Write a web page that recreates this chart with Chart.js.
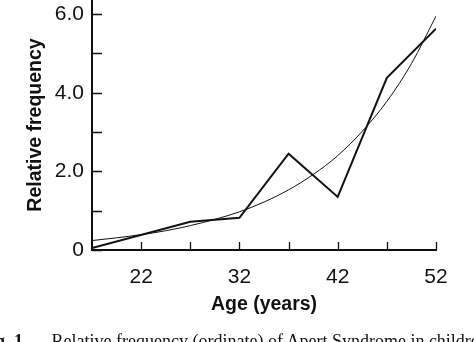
<!DOCTYPE html>
<html>
<head>
<meta charset="utf-8">
<script src="https://cdn.jsdelivr.net/npm/chart.js@4/dist/chart.umd.min.js"></script>
<style>
    html, body { margin: 0; padding: 0; background: #fff; overflow: hidden; }
    #wrap { position: relative; width: 474px; height: 342px; }
    #cap {
        position: absolute; left: -20px; top: 332px;
        font-family: "Liberation Serif", "Times New Roman", serif;
        font-size: 18px; line-height: 18px; color: #111; white-space: nowrap;
    }
    #cap span { margin-left: 24px; }
</style>
</head>
<body>
<div id="wrap">
    <canvas id="ageChart" width="474" height="342"></canvas>
    <div id="cap"><b>Fig. 1.</b><span>Relative frequency (ordinate) of Apert Syndrome in children of fathers of different ages</span></div>
</div>
<script>
// Observed relative frequency (jagged line)
const obsAges = [17, 27, 32, 37, 42, 47, 52];
const obsFreq = [0.05, 0.72, 0.82, 2.45, 1.35, 4.38, 5.63];

// Fitted curve (thin line)
const fitAges = [17, 19.5, 22, 24.5, 27, 29.5, 32, 34.5, 37, 39.5, 42, 44.5, 47, 49.5, 52];
const fitFreq = [0.24, 0.31, 0.39, 0.49, 0.62, 0.78, 0.97, 1.22, 1.53, 1.92, 2.40, 3.02, 3.78, 4.74, 5.95];

// Axis ticks
const xTicks = [22, 27, 32, 37, 42, 47, 52];
const xLabels = ['22', '', '32', '', '42', '', '52'];
const yTicks = [0, 1, 2, 3, 4, 5, 6];
const yLabels = ['0', '', '2.0', '', '4.0', '', '6.0'];

const ink = '#111';

// inward tick marks
const inwardTicks = {
    id: 'inwardTicks',
    afterDraw(chart) {
        const ctx = chart.ctx;
        const x = chart.scales.x, y = chart.scales.y;
        ctx.save();
        ctx.strokeStyle = ink;
        ctx.lineWidth = 1.3;
        ctx.beginPath();
        x.ticks.forEach(t => {
            const px = Math.round(x.getPixelForValue(t.value)) + 0.5;
            ctx.moveTo(px, x.top);
            ctx.lineTo(px, x.top - 8);
        });
        y.ticks.forEach(t => {
            const py = Math.round(y.getPixelForValue(t.value)) + 0.5;
            ctx.moveTo(y.right, py);
            ctx.lineTo(y.right + 10, py);
        });
        ctx.stroke();
        ctx.restore();
    }
};

new Chart(document.getElementById('ageChart').getContext('2d'), {
    type: 'scatter',
    data: {
        datasets: [{
            data: obsAges.map((a, i) => ({ x: a, y: obsFreq[i] })),
            showLine: true,
            borderColor: ink,
            borderWidth: 2,
            pointRadius: 0,
            tension: 0
        }, {
            data: fitAges.map((a, i) => ({ x: a, y: fitFreq[i] })),
            showLine: true,
            borderColor: ink,
            borderWidth: 1,
            pointRadius: 0,
            cubicInterpolationMode: 'monotone'
        }]
    },
    options: {
        responsive: false,
        animation: false,
        devicePixelRatio: 1,
        layout: { padding: { left: 0, right: 38, top: 0, bottom: 0 } },
        plugins: {
            legend: { display: false },
            tooltip: { enabled: false }
        },
        scales: {
            x: {
                type: 'linear',
                min: 17,
                max: 52,
                afterBuildTicks: s => { s.ticks = xTicks.map(v => ({ value: v })); },
                afterFit: s => { s.height = 92; s.paddingLeft = 0; s.paddingRight = 0; },
                grid: { display: false, drawTicks: false },
                border: { color: ink, width: 2 },
                ticks: {
                    color: ink,
                    padding: 15,
                    maxRotation: 0,
                    autoSkip: false,
                    font: { family: 'Liberation Sans', size: 21 },
                    callback: (v, i) => xLabels[i]
                },
                title: {
                    display: true,
                    text: 'Age (years)',
                    color: ink,
                    padding: { top: 0, bottom: 26 },
                    font: { family: 'Liberation Sans', size: 19.5, weight: 'bold' }
                }
            },
            y: {
                min: 0,
                max: 6.36,
                afterBuildTicks: s => { s.ticks = yTicks.map(v => ({ value: v })); },
                afterFit: s => { s.width = 92; s.paddingTop = 0; s.paddingBottom = 0; },
                grid: { display: false, drawTicks: false },
                border: { color: ink, width: 2 },
                ticks: {
                    color: ink,
                    padding: 8,
                    autoSkip: false,
                    font: { family: 'Liberation Sans', size: 21 },
                    callback: (v, i) => yLabels[i]
                },
                title: {
                    display: true,
                    text: 'Relative frequency',
                    color: ink,
                    padding: { top: 24, bottom: 0 },
                    font: { family: 'Liberation Sans', size: 19.5, weight: 'bold' }
                }
            }
        }
    },
    plugins: [inwardTicks]
});
</script>
</body>
</html>
